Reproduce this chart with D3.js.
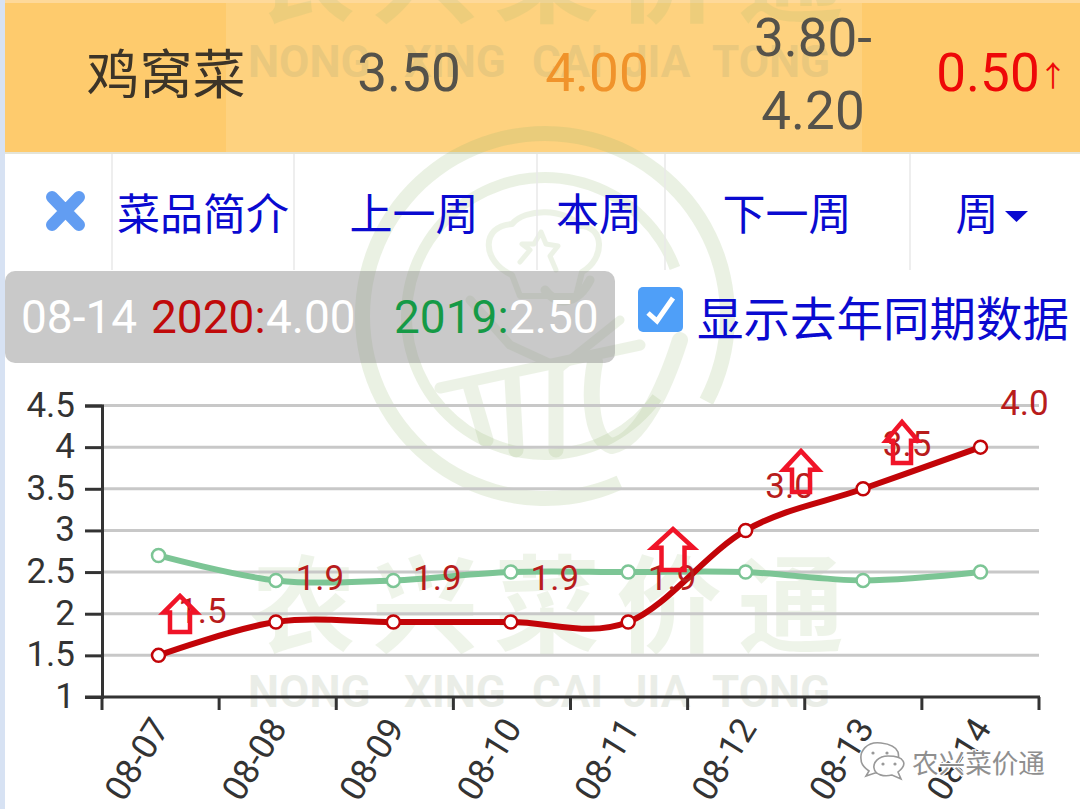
<!DOCTYPE html>
<html><head><meta charset="utf-8">
<style>html,body{margin:0;padding:0;background:#fff;overflow:hidden}svg{display:block}
text{font-family:Roboto,"Noto Sans CJK SC",sans-serif}
.cjk{font-family:"Noto Sans CJK SC",sans-serif}</style>
<script src="https://cdn.jsdelivr.net/npm/d3@7/dist/d3.min.js"></script>
</head><body><div id="c"></div>
<script>
const categories=["08-07","08-08","08-09","08-10","08-11","08-12","08-13","08-14"];
const values2020=[1.5,1.9,1.9,1.9,1.9,3.0,3.5,4.0];
const values2019=[2.7,2.4,2.4,2.5,2.5,2.5,2.4,2.5];
const yTicks=[1,1.5,2,2.5,3,3.5,4,4.5];
const rowTexts=["鸡窝菜","3.50","4.00","3.80-","4.20","0.50"];
const navLabels=["菜品简介","上一周","本周","下一周","周"];
const tooltipParts=["08-14","2020:","4.00","2019:","2.50"];
const checkLabel="显示去年同期数据";
const watermarkCn="农兴菜价通";
const watermarkEn=["NONG","XING","CAI","JIA","TONG"];

const W=1080,H=809;
const svg=d3.select("#c").append("svg").attr("width",W).attr("height",H);
const txt=(g,s,x,y,size,fill,anchor="start",cls=null)=>g.append("text").attr("x",x).attr("y",y)
  .attr("font-size",size).attr("fill",fill).attr("text-anchor",anchor).attr("dominant-baseline","central").attr("class",cls).text(s);

// page + orange band
svg.append("rect").attr("width",W).attr("height",H).attr("fill","#fff");
svg.append("rect").attr("width",5).attr("height",H).attr("fill","#d7e2f3");
svg.append("rect").attr("x",5).attr("width",W-5).attr("height",152).attr("fill","#fecb6d");
svg.append("rect").attr("x",226).attr("width",636).attr("height",152).attr("fill","#fed27f");
svg.append("rect").attr("x",5).attr("width",W-5).attr("height",3).attr("fill","#fed99a");
svg.append("rect").attr("x",5).attr("y",152).attr("width",W-5).attr("height",2).attr("fill","#e4e4d8");

// watermark tiles
const wmGreen="#8fb36a";
function tile(dy){
  const g=svg.append("g").attr("transform",`translate(0,${dy})`);
  const cx=545,cy=316;
  const arc=d3.arc();
  g.append("path").attr("transform",`translate(${cx},${cy})`).attr("fill",wmGreen).attr("opacity",.19)
    .attr("d",arc({innerRadius:175,outerRadius:190,startAngle:2.72,endAngle:2.72+5.62}));
  g.append("path").attr("transform",`translate(${cx},${cy})`).attr("fill",wmGreen).attr("opacity",.19)
    .attr("d",arc({innerRadius:133,outerRadius:144,startAngle:2.2,endAngle:2.2+5.3}));
  const st=g.append("g").attr("fill","none").attr("stroke",wmGreen).attr("opacity",.16).attr("stroke-linecap","round").attr("stroke-linejoin","round");
  // chef hat
  st.append("path").attr("stroke-width",6).attr("d","M512,275 C482,262 480,226 512,224 C525,208 565,208 580,226 C604,226 606,258 582,272 L576,296 L520,296 Z");
  st.append("path").attr("stroke-width",5).attr("d","M520,262 L530,250 L522,244 L534,244 L541,232 L546,244 L558,246 L550,256 L556,270");
  st.append("path").attr("stroke-width",9).attr("d","M470,300 L510,345 L560,368 L620,320 M545,290 C560,310 580,300 590,280");
  // bowl
  st.append("path").attr("stroke-width",11).attr("d","M440,388 L640,345");
  st.append("path").attr("stroke-width",15).attr("d","M470,385 L486,440 M512,378 L516,450 M556,368 L556,450");
  st.append("path").attr("stroke-width",16).attr("d","M595,362 C588,400 592,440 612,446 C640,440 664,390 680,340");
  // characters
  g.append("text").attr("class","cjk").attr("x",250).attr("y",598).attr("font-size",106).attr("font-weight",700)
    .attr("letter-spacing",16).attr("dominant-baseline","central").attr("fill",wmGreen).attr("opacity",.14).text(watermarkCn);
  const xs=[248,404,532,623,712];
  watermarkEn.forEach((w,i)=>{
    g.append("text").attr("x",xs[i]).attr("y",692).attr("font-family","Liberation Sans").attr("font-size",44).attr("font-weight",700)
      .attr("dominant-baseline","central").attr("fill","#8a9a78").attr("opacity",.17).text(w);
  });
}
tile(-630);tile(0);

// top row
const row=svg.append("g");
txt(row,rowTexts[0],166,71,53,"#3c3428","middle","cjk");
txt(row,rowTexts[1],409,73,53,"#55524a","middle");
txt(row,rowTexts[2],597,73,53,"#f0932b","middle");
txt(row,rowTexts[3],813,38,53,"#55524a","middle");
txt(row,rowTexts[4],813,111,53,"#55524a","middle");
txt(row,rowTexts[5],988,73,53,"#ee0808","middle");
txt(row,"↑",1053,77,29,"#ee0808","middle").attr("font-family","DejaVu Sans");

// nav
[112,294,537,665,910].forEach(x=>svg.append("line").attr("x1",x).attr("x2",x).attr("y1",154).attr("y2",270).attr("stroke","#e8e8e8").attr("stroke-width",1.5));
const navX=[203,414,599,787,977], blue="#0a0ad0";
navLabels.forEach((s,i)=>txt(svg,s,navX[i],211,43,blue,"middle","cjk"));
svg.append("path").attr("d","M52,197 L79,225 M79,197 L52,225").attr("stroke","#629df2").attr("stroke-width",12).attr("stroke-linecap","round").attr("fill","none");
svg.append("path").attr("fill",blue).attr("d",d3.line()([[1005,211],[1028,211],[1016.5,222]])+"Z");

// tooltip
svg.append("rect").attr("x",5).attr("y",271).attr("width",610).attr("height",92).attr("rx",10).attr("fill","#8c8c8c").attr("opacity",.47);
const tipX=[21,151,266,394,509], tipC=["#fff","#c00a0a","#fff","#159a46","#fff"];
tooltipParts.forEach((s,i)=>txt(svg,s,tipX[i],317,46,tipC[i],"start"));

// checkbox
svg.append("rect").attr("x",638).attr("y",287).attr("width",45).attr("height",45).attr("rx",5).attr("fill","#4f9ff8");
svg.append("path").attr("d","M648,313 L657,321 L673,298").attr("fill","none").attr("stroke","#fff").attr("stroke-width",5);
txt(svg,checkLabel,697,315,46.5,blue,"start","cjk");

// chart
const xPoint=d3.scalePoint().domain(categories).range([158.5,980.5]);
const xBand=d3.scaleBand().domain(categories).range([102,1039]);
const y=d3.scaleLinear().domain([1,4.5]).range([697,405.5]);
const axisColor="#333";

svg.append("g").selectAll("line").data(yTicks.slice(1)).join("line")
  .attr("x1",102).attr("x2",1039).attr("y1",d=>y(d)).attr("y2",d=>y(d)).attr("stroke","#c8c8c8").attr("stroke-width",3);

const yAxis=svg.append("g").attr("transform","translate(102,0)")
  .call(d3.axisLeft(y).tickValues(yTicks).tickSize(17).tickPadding(10).tickFormat(d3.format("")));
yAxis.selectAll("path").attr("stroke",axisColor).attr("stroke-width",3);
yAxis.selectAll("line").attr("stroke",axisColor).attr("stroke-width",3);
yAxis.selectAll("text").attr("font-size",35).attr("fill",axisColor).attr("font-family","Roboto").attr("x",-27).attr("dy","0.3em");

const xG=svg.append("g");
xG.append("line").attr("x1",85).attr("x2",1040).attr("y1",697).attr("y2",697).attr("stroke",axisColor).attr("stroke-width",3);
xG.selectAll("line.t").data(d3.range(categories.length+1)).join("line").attr("class","t")
  .attr("x1",i=>xBand.range()[0]+i*xBand.step()).attr("x2",i=>xBand.range()[0]+i*xBand.step())
  .attr("y1",697).attr("y2",710).attr("stroke",axisColor).attr("stroke-width",3);
xG.selectAll("text").data(categories).join("text")
  .attr("transform",d=>`translate(${xPoint(d)+12},728) rotate(-58)`)
  .attr("text-anchor","end").attr("font-size",35).attr("fill",axisColor).text(d=>d);

const lineGen=d3.line().x((d,i)=>xPoint(categories[i])).y(d=>y(d)).curve(d3.curveCardinal.tension(0));
function series(vals,color,dot){
  const g=svg.append("g");
  g.append("path").attr("d",lineGen(vals)).attr("fill","none").attr("stroke",color).attr("stroke-width",6);
  g.selectAll("circle").data(vals).join("circle").attr("cx",(d,i)=>xPoint(categories[i])).attr("cy",d=>y(d))
    .attr("r",6.5).attr("fill","#fff").attr("stroke",dot).attr("stroke-width",2.5);
}
series(values2019,"#7cc595","#7cc595");
series(values2020,"#c20408","#c20408");

svg.append("g").selectAll("text").data(values2020).join("text")
  .attr("x",(d,i)=>xPoint(categories[i])+44).attr("y",d=>y(d)-44).attr("text-anchor","middle").attr("dominant-baseline","central")
  .attr("font-size",35).attr("fill","#b81c1c").text(d=>d.toFixed(1));

// hand-drawn red arrows (annotation)
const arrow=(cx,bottom,w,h,sw)=>{
  const hh=h*.46;
  const pts=[[cx-sw/2,bottom],[cx-sw/2,bottom-h+hh],[cx-w/2,bottom-h+hh],[cx,bottom-h],[cx+w/2,bottom-h+hh],[cx+sw/2,bottom-h+hh],[cx+sw/2,bottom]];
  svg.append("path").attr("d",d3.line()(pts)+"Z").attr("fill","none").attr("stroke","#f01428").attr("stroke-width",4.5);
};
arrow(180,632,33,36,20);
arrow(673,570,41,41,23);
arrow(801,492,35,41,18);
arrow(902,463,32,41,18);

// wechat mark
const wx=svg.append("g").attr("fill","#fff").attr("stroke","#999").attr("stroke-width",1.6);
wx.append("path").attr("d","M881,743 C866,741 860,752 861,759 C861,765 866,769 869,771 L866,776 L875,773 L881,773 C896,773 900,760 898,752 C896,747 890,744 881,743 Z");
wx.append("path").attr("d","M888,756 C878,756 873,763 874,768 C875,775 884,777 892,775 L901,779 L898,772 C903,768 905,764 903,761 C901,757 895,756 888,756 Z");
wx.selectAll("circle").data([[873,753],[887,753],[883,764],[895,764]]).join("circle").attr("cx",d=>d[0]).attr("cy",d=>d[1]).attr("r",1.6).attr("fill","#999").attr("stroke","none");
txt(svg,watermarkCn,912,761,26.6,"#8f8f8f","start","cjk").attr("stroke","#fff").attr("stroke-width",2.5).attr("paint-order","stroke");
</script></body></html>
